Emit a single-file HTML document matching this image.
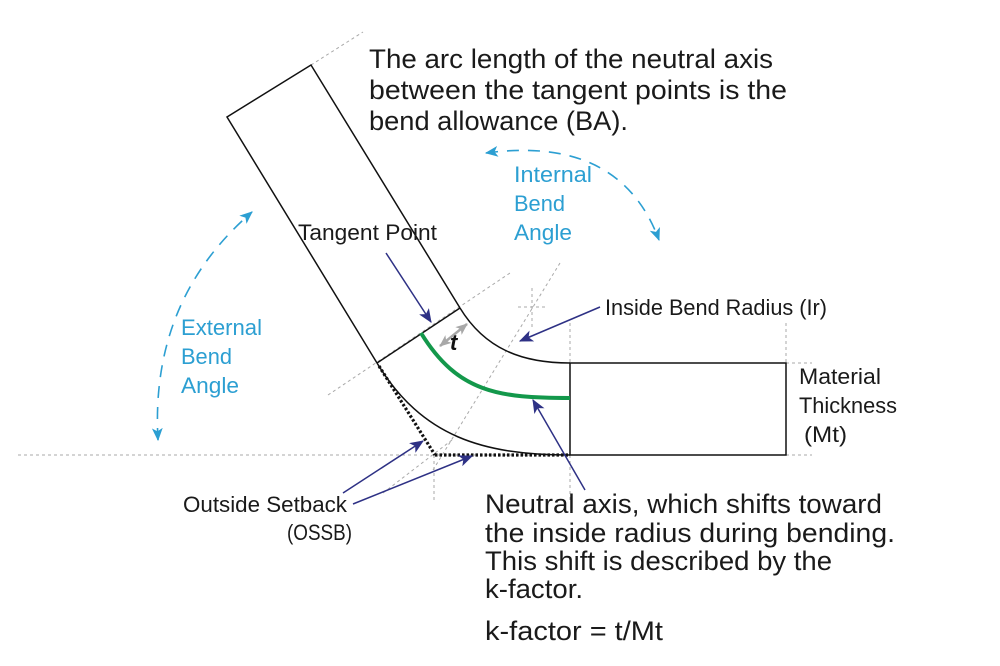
<!DOCTYPE html>
<html><head><meta charset="utf-8"><style>
html,body{margin:0;padding:0;background:#fff;}
svg{display:block;}
text{font-family:"Liberation Sans",sans-serif;}
</style></head><body>
<svg width="1000" height="666" viewBox="0 0 1000 666" xmlns="http://www.w3.org/2000/svg">
<defs>
<marker id="nv" viewBox="0 0 12 10" refX="11" refY="5" markerWidth="14" markerHeight="12" markerUnits="userSpaceOnUse" orient="auto">
<path d="M0,0 L12,5 L0,10 L3,5 z" fill="#2e3185"/></marker>
<marker id="bl" viewBox="0 0 12 10" refX="11" refY="5" markerWidth="13" markerHeight="11" markerUnits="userSpaceOnUse" orient="auto">
<path d="M0,0 L12,5 L0,10 L3,5 z" fill="#2c9fd2"/></marker>
<marker id="blr" viewBox="0 0 12 10" refX="1" refY="5" markerWidth="13" markerHeight="11" markerUnits="userSpaceOnUse" orient="auto">
<path d="M12,0 L0,5 L12,10 L9,5 z" fill="#2c9fd2"/></marker>
<marker id="gr" viewBox="0 0 12 10" refX="11" refY="5" markerWidth="12" markerHeight="11" markerUnits="userSpaceOnUse" orient="auto">
<path d="M0,0 L12,5 L0,10 L3,5 z" fill="#a8a8a8"/></marker>
<marker id="grr" viewBox="0 0 12 10" refX="1" refY="5" markerWidth="12" markerHeight="11" markerUnits="userSpaceOnUse" orient="auto">
<path d="M12,0 L0,5 L12,10 L9,5 z" fill="#a8a8a8"/></marker>
</defs>

<!-- gray dashed construction lines -->
<g stroke="#a9a9a9" stroke-width="1" stroke-dasharray="3 3" fill="none">
<line x1="18" y1="455" x2="812" y2="455"/>
<line x1="786" y1="363" x2="812" y2="363"/>
<line x1="570" y1="323" x2="570" y2="363"/>
<line x1="786" y1="323" x2="786" y2="363"/>
<line x1="570" y1="455" x2="570" y2="500"/>
<line x1="434" y1="455" x2="434" y2="500"/>
<line x1="311" y1="65" x2="363" y2="32"/>
<line x1="328" y1="395" x2="510" y2="273"/>
<line x1="560" y1="263" x2="433" y2="470"/>
<line x1="383" y1="493" x2="452" y2="440"/>
<line x1="518" y1="307" x2="545" y2="307"/>
<line x1="532" y1="288" x2="532" y2="330"/>
</g>

<!-- black part outline -->
<g stroke="#111" stroke-width="1.5" fill="none">
<path d="M377,363 L227,117 L311,65 L460,308"/>
<line x1="377" y1="363" x2="460" y2="308"/>
<path d="M460,308 C485,349 522,363 570,363"/>
<path d="M377,363 C422,437 483,455 570,455"/>
<rect x="570" y="363" width="216" height="92"/>
</g>

<!-- dotted OSSB lines -->
<g stroke="#111" stroke-width="3.2" stroke-dasharray="2.5 2" fill="none">
<line x1="379" y1="366" x2="435" y2="455"/>
<line x1="435" y1="455" x2="570" y2="455"/>
</g>

<!-- neutral axis green -->
<path d="M421,333 C458,393 499,398 570,398" stroke="#13984b" stroke-width="4" fill="none"/>

<!-- gray t arrow -->
<line x1="440" y1="346" x2="467" y2="324" stroke="#a8a8a8" stroke-width="2.5" marker-start="url(#grr)" marker-end="url(#gr)"/>
<text x="450" y="350" font-family="Liberation Serif,serif" font-style="italic" font-weight="bold" font-size="22" fill="#111">t</text>

<!-- navy arrows -->
<g stroke="#2e3185" stroke-width="1.5" fill="none" marker-end="url(#nv)">
<line x1="386" y1="253" x2="431" y2="322"/>
<line x1="600" y1="307" x2="520" y2="341"/>
<line x1="585" y1="490" x2="533" y2="400"/>
<line x1="343" y1="493" x2="423" y2="441"/>
<line x1="353" y1="504" x2="472" y2="456"/>
</g>

<!-- blue dashed angle arcs -->
<g stroke="#2c9fd2" stroke-width="1.6" fill="none" stroke-dasharray="12 9">
<path d="M158,440 Q150,300 252,212" marker-start="url(#blr)" marker-end="url(#bl)"/>
<path d="M486,153 Q620,135 659,240" marker-start="url(#blr)" marker-end="url(#bl)"/>
</g>

<!-- texts -->
<g fill="#1a1a1a" font-size="27">
<text x="369" y="68" textLength="404" lengthAdjust="spacingAndGlyphs">The arc length of the neutral axis</text>
<text x="369" y="99" textLength="418" lengthAdjust="spacingAndGlyphs">between the tangent points is the</text>
<text x="369" y="130" textLength="259" lengthAdjust="spacingAndGlyphs">bend allowance (BA).</text>

<text x="485" y="513" textLength="397" lengthAdjust="spacingAndGlyphs">Neutral axis, which shifts toward</text>
<text x="485" y="542" textLength="410" lengthAdjust="spacingAndGlyphs">the inside radius during bending.</text>
<text x="485" y="570" textLength="347" lengthAdjust="spacingAndGlyphs">This shift is described by the</text>
<text x="485" y="598" textLength="98" lengthAdjust="spacingAndGlyphs">k-factor.</text>
<text x="485" y="640" textLength="178" lengthAdjust="spacingAndGlyphs">k-factor = t/Mt</text>
</g>

<g fill="#1a1a1a" font-size="22">
<text x="298" y="240" textLength="139" lengthAdjust="spacingAndGlyphs">Tangent Point</text>
<text x="605" y="315" textLength="222" lengthAdjust="spacingAndGlyphs">Inside Bend Radius (Ir)</text>
<text x="799" y="384" textLength="82" lengthAdjust="spacingAndGlyphs">Material</text>
<text x="799" y="413" textLength="98" lengthAdjust="spacingAndGlyphs">Thickness</text>
<text x="804" y="442" textLength="43" lengthAdjust="spacingAndGlyphs">(Mt)</text>
<text x="183" y="512" textLength="164" lengthAdjust="spacingAndGlyphs">Outside Setback</text>
<text x="287" y="540" textLength="65" lengthAdjust="spacingAndGlyphs">(OSSB)</text>
</g>

<g fill="#2c9fd2" font-size="22">
<text x="514" y="182" textLength="78" lengthAdjust="spacingAndGlyphs">Internal</text>
<text x="514" y="211" textLength="51" lengthAdjust="spacingAndGlyphs">Bend</text>
<text x="514" y="240" textLength="58" lengthAdjust="spacingAndGlyphs">Angle</text>
<text x="181" y="335" textLength="81" lengthAdjust="spacingAndGlyphs">External</text>
<text x="181" y="364" textLength="51" lengthAdjust="spacingAndGlyphs">Bend</text>
<text x="181" y="393" textLength="58" lengthAdjust="spacingAndGlyphs">Angle</text>
</g>
</svg>
</body></html>
